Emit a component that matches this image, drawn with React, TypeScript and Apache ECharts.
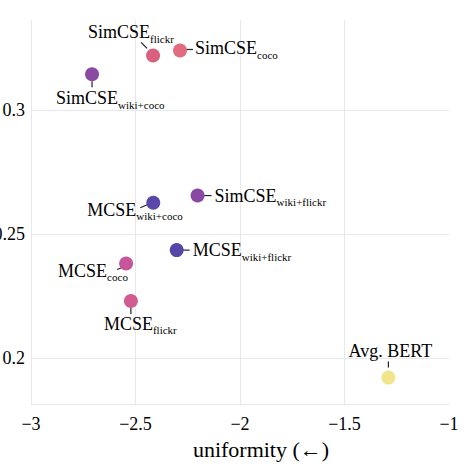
import React, { useEffect, useRef } from "react";
import * as echarts from "echarts";

// ---- data ----
const modelNames = ["SimCSE", "SimCSE", "SimCSE", "MCSE", "SimCSE", "MCSE", "MCSE", "MCSE", "Avg. BERT"];
const subNames = ["flickr", "coco", "wiki+coco", "wiki+coco", "wiki+flickr", "wiki+flickr", "coco", "flickr", ""];
const uniformity = [-2.416, -2.287, -2.708, -2.415, -2.203, -2.303, -2.545, -2.522, -1.29];
const alignment = [0.322, 0.324, 0.3144, 0.2626, 0.2655, 0.2435, 0.2381, 0.223, 0.1921];
const xTicks = [-3, -2.5, -2, -1.5, -1];
const yTicks = [0.2, 0.25, 0.3];

// ---- styles ----
const pointColors = ["#d9607f", "#e16c7d", "#8a4aa1", "#5a47a8", "#8848a4", "#5746a8", "#c8559b", "#d25b92", "#f1e58a"];
// label placement relative to point centre: dx/dy = main-text left (or centre) & baseline; line = leader segment
const placements = [
  { dx: -65, dy: -17, align: "left", line: [-12, -13, -6, -7] },
  { dx: 15, dy: 4, align: "left", line: [6, -1, 13, -1] },
  { dx: -36, dy: 30, align: "left", line: [0, 7, 0, 13] },
  { dx: -66, dy: 13, align: "left", line: [-13, 5, -6, 2] },
  { dx: 17, dy: 6, align: "left", line: [6, 0, 14, 0] },
  { dx: 16, dy: 6, align: "left", line: [6, 0, 13, 0] },
  { dx: -68, dy: 13, align: "left", line: [-9, 6, -4, 4] },
  { dx: -27, dy: 29, align: "left", line: [0, 7, 0, 13] },
  { dx: 2, dy: -21, align: "center", line: [0, -16, 0, -10] },
];
const FONT = "'Liberation Serif', 'Times New Roman', serif";
const GRID = "#e6e8ee";

export default function App() {
  const ref = useRef<HTMLDivElement>(null);
  useEffect(() => {
    if (!ref.current) return;
    const chart = echarts.init(ref.current, null, { renderer: "svg" });
    const fmtX = (v: number) => (v < 0 ? "\u2212" + Math.abs(v) : String(v));
    const fmtY = (v: number) => {
      const hit = yTicks.find((t) => Math.abs(t - v) < 1e-6);
      return hit === undefined ? "" : String(hit);
    };
    chart.setOption({
      animation: false,
      backgroundColor: "#ffffff",
      grid: { left: 31, right: 25, top: 20, bottom: 70, containLabel: false, outerBoundsMode: "none" },
      xAxis: {
        type: "value",
        min: xTicks[0],
        max: xTicks[xTicks.length - 1],
        interval: 0.5,
        name: "uniformity (\u2190)",
        nameLocation: "middle",
        nameGap: 34,
        nameTextStyle: { fontFamily: FONT, fontSize: 22, color: "#000", padding: [0, 0, 0, 42] },
        axisLine: { show: true, lineStyle: { color: GRID, width: 1 } },
        axisTick: { show: false },
        axisLabel: { fontFamily: FONT, fontSize: 18, color: "#000", margin: 11, formatter: fmtX },
        splitLine: { show: true, showMaxLine: false, lineStyle: { color: GRID, width: 1 } },
      },
      yAxis: {
        type: "value",
        min: 0.18145,
        max: 0.33629,
        splitNumber: 3,
        axisLine: { show: false },
        axisTick: { show: false },
        axisLabel: {
          fontFamily: FONT,
          fontSize: 18,
          color: "#000",
          margin: 6,
          showMinLabel: false,
          showMaxLabel: false,
          formatter: fmtY,
        },
        splitLine: { show: true, showMinLine: false, showMaxLine: false, lineStyle: { color: GRID, width: 1 } },
      },
      series: [
        {
          type: "custom",
          clip: false,
          data: uniformity.map((x, i) => [x, alignment[i]]),
          renderItem: (params: any, api: any) => {
            const i = params.dataIndex;
            const [cx, cy] = api.coord([api.value(0), api.value(1)]);
            const p = placements[i];
            const text = subNames[i] ? `{m|${modelNames[i]}}{s|${subNames[i]}}` : `{m|${modelNames[i]}}`;
            return {
              type: "group",
              children: [
                {
                  type: "line",
                  shape: { x1: cx + p.line[0], y1: cy + p.line[1], x2: cx + p.line[2], y2: cy + p.line[3] },
                  style: { stroke: "#222", lineWidth: 1.2 },
                },
                {
                  type: "circle",
                  shape: { cx, cy, r: 7 },
                  style: { fill: pointColors[i] },
                },
                {
                  type: "text",
                  x: cx + p.dx,
                  y: cy + p.dy - 18,
                  style: {
                    text,
                    align: p.align,
                    verticalAlign: "top",
                    rich: {
                      m: { fontFamily: FONT, fontSize: 18, color: "#000", lineHeight: 24 },
                      s: { fontFamily: FONT, fontSize: 11, color: "#000", lineHeight: 24, verticalAlign: "bottom" },
                    },
                  },
                },
              ],
            };
          },
        },
      ],
    });
    return () => chart.dispose();
  }, []);
  return <div ref={ref} style={{ width: 474, height: 474, position: "absolute", left: 0, top: 0 }} />;
}
